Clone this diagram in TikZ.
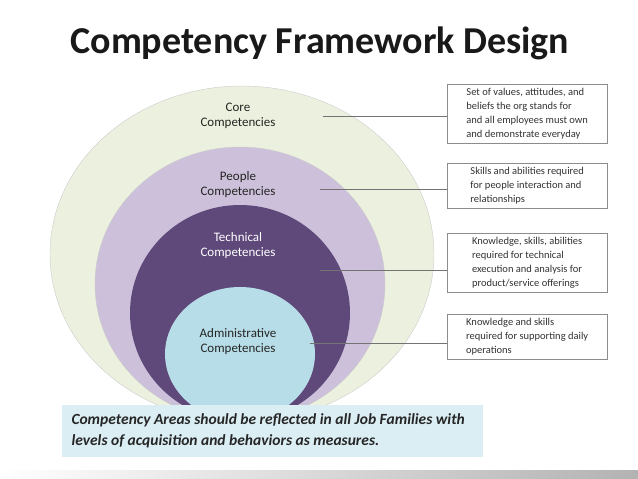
\documentclass[tikz,border=0pt]{standalone}
\usepackage{fontspec}
\setmainfont{Carlito}
\begin{document}
\begin{tikzpicture}[x=1pt,y=-1pt,
  lbl/.style={align=center,font=\fontsize{13}{15}\selectfont,text=black!85},
  desc/.style={draw=black!45,fill=white,align=left,font=\fontsize{10.5}{14}\selectfont,text=black!80,inner xsep=5pt,inner ysep=4pt,anchor=north west,minimum width=160pt},
  ln/.style={draw=black!55,line width=0.6pt}]
\useasboundingbox (0,0) rectangle (638,479);
\fill[white] (0,0) rectangle (638,479);
\node[font=\fontsize{38}{44}\selectfont\bfseries,text=black!90] (title) at (320,43) {Competency Framework Design};
\fill[fill={rgb,255:red,235;green,241;blue,222},draw=black!20] (242,254) ellipse [x radius=192,y radius=168];
\fill[fill={rgb,255:red,204;green,192;blue,218},draw=black!20] (240,284) ellipse [x radius=145,y radius=137];
\fill[fill={rgb,255:red,95;green,73;blue,122}] (240,313) ellipse [x radius=110,y radius=108];
\fill[fill={rgb,255:red,183;green,222;blue,232}] (240,354) ellipse [x radius=75,y radius=67];
\node[lbl] (core) at (238,116) {Core\\Competencies};
\node[lbl] (people) at (238,185) {People\\Competencies};
\node[lbl,text=white] (tech) at (238,246) {Technical\\Competencies};
\node[lbl] (admin) at (238,342) {Administrative\\Competencies};
\node[desc] (d1) at (447,84) {Set of values, attitudes, and\\beliefs the org stands for\\and all employees must own\\and demonstrate everyday};
\node[desc] (d2) at (447,163) {Skills and abilities required\\for people interaction and\\relationships};
\node[desc] (d3) at (447,233) {Knowledge, skills, abilities\\required for technical\\execution and analysis for\\product/service offerings};
\node[desc] (d4) at (447,314) {Knowledge and skills\\required for supporting daily\\operations};
\coordinate (c1) at (323,116); \coordinate (c2) at (320,189);
\coordinate (c3) at (320,270); \coordinate (c4) at (310,343);
\draw[ln] (c1) -- (c1 -| d1.west);
\draw[ln] (c2) -- (c2 -| d2.west);
\draw[ln] (c3) -- (c3 -| d3.west);
\draw[ln] (c4) -- (c4 -| d4.west);
\node[fill={rgb,255:red,219;green,238;blue,244},minimum width=421pt,minimum height=52pt,anchor=north west,inner sep=0pt] (bot) at (62,405) {};
\node[anchor=west,align=left,font=\fontsize{15.5}{21}\selectfont\bfseries\itshape,text=black!85] (bt) at (68,431) {Competency Areas should be reflected in all Job Families with\\levels of acquisition and behaviors as measures.};
\shade[left color=white,right color=black!30,middle color=black!15] (0,470) rectangle (638,479);
\end{tikzpicture}
\end{document}
